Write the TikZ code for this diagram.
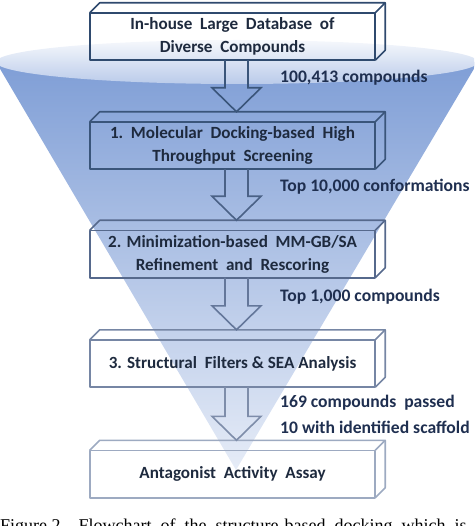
\documentclass[tikz,border=0pt]{standalone}
\usepackage{fontspec}
\setmainfont{Carlito}
\newfontfamily\capfont{Liberation Serif}
\usetikzlibrary{calc}
\definecolor{coneT}{HTML}{7F9ED6}
\definecolor{coneM}{HTML}{ADC1E7}
\definecolor{coneB}{HTML}{E6ECF7}
\definecolor{elT}{HTML}{F6F8FC}
\definecolor{elB}{HTML}{BACBEA}
\definecolor{txt}{HTML}{1E2A3E}
\definecolor{lab}{HTML}{1F2F50}
\definecolor{eA}{HTML}{2F4A6E}
\definecolor{eB}{HTML}{3A557A}
\definecolor{eC}{HTML}{56698C}
\definecolor{eD}{HTML}{7686A4}
\definecolor{eE}{HTML}{9DAAC1}
\definecolor{aA}{HTML}{3A557A}
\definecolor{aB}{HTML}{4A6186}
\definecolor{aC}{HTML}{64779A}
\definecolor{aD}{HTML}{7E8DAA}
\newcommand\boxfaces[2]{%
  \draw[#2, line width=1.6pt, line join=round] (#1.south west) rectangle (#1.north east);
  \draw[#2, line width=1.6pt, line join=round] (#1.north west) -- ++(10,-10) -- ($(#1.north east)+(10,-10)$) -- (#1.north east);
  \draw[#2, line width=1.6pt, line join=round] ($(#1.north east)+(10,-10)$) -- ($(#1.south east)+(10,-10)$) -- (#1.south east);}
\newcommand\blockarrow[3]{%
  \draw[#3, line width=1.6pt, line join=miter] let \p1=(#1.south), \p2=(#2.north) in
   (\x1-7.5pt,\y1) -- (\x1-7.5pt,\y2+34pt) -- (\x1-20.5pt,\y2+34pt) -- (\x1+4pt,\y2+10pt)
   -- (\x1+28.5pt,\y2+34pt) -- (\x1+15.5pt,\y2+34pt) -- (\x1+15.5pt,\y1);}
\begin{document}
\begin{tikzpicture}[x=1pt,y=-1pt,
  stage/.style={rectangle, minimum width=285pt, minimum height=47pt, inner sep=0pt, align=center,
    font=\bfseries\fontsize{17.1}{23}\selectfont, text=txt},
  lbl/.style={anchor=west, inner sep=0pt, font=\bfseries\fontsize{17.6}{20}\selectfont, text=lab}]
\useasboundingbox (0,0) rectangle (474,526);
\begin{scope}
  \clip (0,0) rectangle (474,526);
  \shade[top color=coneT, middle color=coneM, bottom color=coneB] (-4,62) -- (478,62) -- (236,470) -- cycle;
  \shade[top color=elT, bottom color=elB] (237,62) ellipse [x radius=241, y radius=22];
\end{scope}
\node[stage] (b0) at (232.5,36.5) {In-house\ \ Large\ \ Database\ \ of\\Diverse\ \ Compounds};
\node[stage] (b1) at (232.5,145.5) {1.\ \ Molecular\ \ Docking-based\ \ High\\Throughput\ \ Screening};
\node[stage] (b2) at (232.5,254) {2. Minimization-based\ \ MM-GB/SA\\Refinement\ \ and\ \ Rescoring};
\node[stage] (b3) at (232.5,363.5) {3. Structural\ \ Filters \& SEA Analysis};
\node[stage] (b4) at (232.5,474) {Antagonist\ \ Activity\ \ Assay};
\boxfaces{b0}{eA}
\boxfaces{b1}{eB}
\boxfaces{b2}{eC}
\boxfaces{b3}{eD}
\boxfaces{b4}{eE}
\blockarrow{b0}{b1}{aA}
\blockarrow{b1}{b2}{aB}
\blockarrow{b2}{b3}{aC}
\blockarrow{b3}{b4}{aD}
\node[lbl] (l1) at (280,78) {100,413 compounds};
\node[lbl] (l2) at (280,187) {Top 10,000 conformations};
\node[lbl] (l3) at (280,297) {Top 1,000 compounds};
\node[lbl] (l4) at (280,403) {169 compounds\ \ passed};
\node[lbl] (l5) at (280,427) {10 with identified scaffold};
\node[anchor=base west, inner sep=0pt, font=\capfont\fontsize{18}{18}\selectfont] (cap) at (0,531.5)
  {Figure\ 2.\ \ \ Flowchart\ \ of\ \ the\ \ structure-based\ \ docking\ \ which\ \ is\ \ ited};
\end{tikzpicture}
\end{document}
